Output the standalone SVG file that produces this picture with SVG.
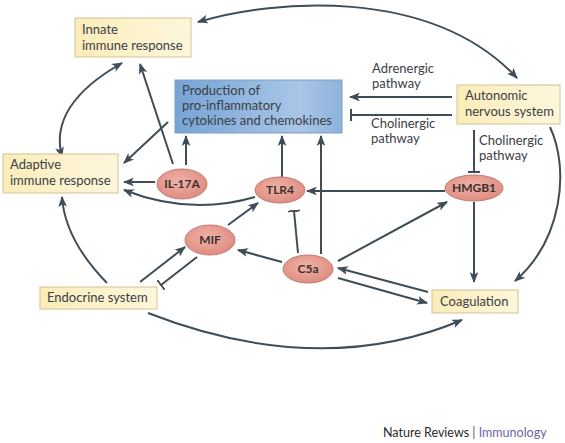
<svg xmlns="http://www.w3.org/2000/svg" width="565" height="443" viewBox="0 0 565 443">
<style>
.box{stroke:#d3c48f;stroke-width:1;fill:url(#yel)}
.ell{stroke:#c47a70;stroke-width:1;fill:url(#red)}
.t{font-family:Lato,"Open Sans",sans-serif;font-size:13px;fill:#3b4046}
.b{font-family:Lato,"Open Sans",sans-serif;font-size:12px;font-weight:bold;fill:#3b3230;text-anchor:middle}
.c line,.c path{stroke:#3f4d58;stroke-width:2;fill:none}
.a{marker-end:url(#ah)}
.aa{marker-end:url(#ah);marker-start:url(#ahs)}
.i{marker-end:url(#bar)}
</style>
<defs>
<linearGradient id="yel" x1="0" x2="1" y1="0" y2="0"><stop offset="0" stop-color="#fbedb9"/><stop offset="1" stop-color="#fdf6dc"/></linearGradient>
<linearGradient id="blu" x1="0" x2="1" y1="0" y2="0"><stop offset="0" stop-color="#76a3d6"/><stop offset="0.75" stop-color="#a9c6e6"/><stop offset="1" stop-color="#8eb2dc"/></linearGradient>
<radialGradient id="red" cx="0.45" cy="0.4" r="0.65"><stop offset="0" stop-color="#f0b1a6"/><stop offset="1" stop-color="#de8a7e"/></radialGradient>
<marker id="ah" viewBox="0 0 10 8" refX="9" refY="4" markerWidth="5.5" markerHeight="4.4" orient="auto" markerUnits="strokeWidth"><path d="M0,0 L10,4 L0,8 L2.5,4 z" fill="#3f4d58"/></marker>
<marker id="ahs" viewBox="0 0 10 8" refX="9" refY="4" markerWidth="5.5" markerHeight="4.4" orient="auto-start-reverse" markerUnits="strokeWidth"><path d="M0,0 L10,4 L0,8 L2.5,4 z" fill="#3f4d58"/></marker>
<marker id="bar" viewBox="0 0 2 12" refX="1" refY="6" markerWidth="1" markerHeight="6" orient="auto" markerUnits="strokeWidth"><path d="M1,0 L1,12" stroke="#3f4d58" stroke-width="2"/></marker>
</defs>
<rect width="565" height="443" fill="#ffffff"/>

<g class="c" id="connectors">
<path class="aa" d="M198,22 C270,0 430,-15 517,78"/>
<path class="a" d="M550,127 C570,170 562,240 515,281"/>
<path class="aa" d="M122,63 Q48,105 62,157"/>
<line class="a" x1="173" y1="164" x2="140" y2="64"/>
<line class="a" x1="186" y1="165" x2="186" y2="136"/>
<line class="a" x1="168" y1="122" x2="124" y2="163"/>
<line class="a" x1="155" y1="182" x2="124" y2="182"/>
<path class="a" d="M255,197 Q190,216 124,190"/>
<line class="a" x1="282" y1="177" x2="282" y2="136"/>
<line class="a" x1="321" y1="254" x2="321" y2="136"/>
<line class="a" x1="452" y1="97" x2="350" y2="97"/>
<line class="i" x1="452" y1="115" x2="351" y2="115"/>
<line class="i" x1="474" y1="130" x2="474" y2="172"/>
<line class="a" x1="445" y1="191" x2="307" y2="191"/>
<line class="i" x1="298" y1="253" x2="294" y2="211"/>
<line class="a" x1="338" y1="261" x2="447" y2="202"/>
<line class="a" x1="474" y1="202" x2="474" y2="282"/>
<line class="a" x1="428" y1="292" x2="338" y2="268"/>
<line class="a" x1="338" y1="278" x2="427" y2="303"/>
<line class="a" x1="282" y1="262" x2="238" y2="250"/>
<line class="a" x1="228" y1="225" x2="258" y2="203"/>
<line class="a" x1="140" y1="282" x2="185" y2="247"/>
<line class="i" x1="197" y1="257" x2="161" y2="285"/>
<path class="a" d="M107,283 Q65,240 62,197"/>
<path class="a" d="M148,313 Q320,380 462,320"/>
</g>

<g id="innate"><rect class="box" x="75" y="18" width="116" height="39"/><text class="t" x="82" y="34">Innate</text><text class="t" x="82" y="50">immune response</text></g>
<g id="production"><rect x="175" y="80" width="167" height="53" fill="url(#blu)" stroke="#7d9fc6" stroke-width="1"/><text class="t" x="182" y="95">Production of</text><text class="t" x="182" y="110">pro-inflammatory</text><text class="t" x="182" y="125">cytokines and chemokines</text></g>
<g id="adaptive"><rect class="box" x="3" y="154" width="115" height="39"/><text class="t" x="10" y="169">Adaptive</text><text class="t" x="10" y="185">immune response</text></g>
<g id="autonomic"><rect class="box" x="457" y="85" width="103" height="39"/><text class="t" x="465" y="100">Autonomic</text><text class="t" x="465" y="116">nervous system</text></g>
<g id="endocrine"><rect class="box" x="40" y="287" width="117" height="22"/><text class="t" x="47" y="302">Endocrine system</text></g>
<g id="coagulation"><rect class="box" x="432" y="290" width="86" height="23"/><text class="t" x="440" y="306">Coagulation</text></g>
<g id="il17a"><ellipse class="ell" cx="182" cy="184" rx="25" ry="15"/><text class="b" x="182" y="188">IL-17A</text></g>
<g id="tlr4"><ellipse class="ell" cx="280" cy="190" rx="25" ry="13"/><text class="b" x="280" y="194">TLR4</text></g>
<g id="hmgb1"><ellipse class="ell" cx="474" cy="188" rx="29" ry="13"/><text class="b" x="474" y="192">HMGB1</text></g>
<g id="mif"><ellipse class="ell" cx="210" cy="240" rx="25" ry="15"/><text class="b" x="210" y="244">MIF</text></g>
<g id="c5a"><ellipse class="ell" cx="308" cy="269" rx="25" ry="14"/><text class="b" x="308" y="273">C5a</text></g>

<g id="labels">
<text class="t" x="372" y="73">Adrenergic</text><text class="t" x="372" y="88">pathway</text>
<text class="t" x="371" y="128">Cholinergic</text><text class="t" x="371" y="143">pathway</text>
<text class="t" x="479" y="145">Cholinergic</text><text class="t" x="479" y="160">pathway</text>
<text x="383" y="437" font-family="Lato,'Open Sans',sans-serif" font-size="12.5" fill="#2a2a2a">Nature Reviews <tspan fill="#555">|</tspan> <tspan fill="#6c64a8">Immunology</tspan></text>
</g>
</svg>
